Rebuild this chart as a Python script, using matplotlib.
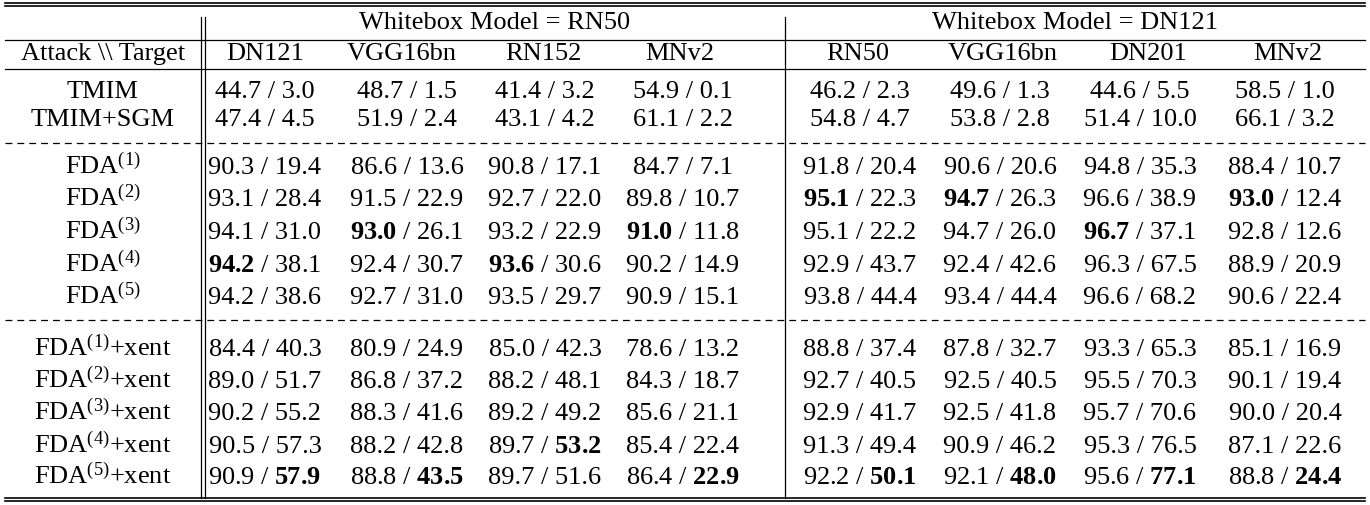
import matplotlib
matplotlib.use("Agg")
import matplotlib.pyplot as plt

plt.rcParams['font.family'] = ['Liberation Serif', 'DejaVu Serif']
plt.rcParams['mathtext.fontset'] = 'custom'
plt.rcParams['mathtext.rm'] = 'Liberation Serif'
plt.rcParams['mathtext.it'] = 'Liberation Serif:italic'
plt.rcParams['mathtext.bf'] = 'Liberation Serif:bold'

group_titles = ["Whitebox Model = RN50", "Whitebox Model = DN121"]
targets = ["DN121", "VGG16bn", "RN152", "MNv2", "RN50", "VGG16bn", "DN201", "MNv2"]
attacks = ["TMIM", "TMIM+SGM",
           "FDA$^{(1)}$", "FDA$^{(2)}$", "FDA$^{(3)}$", "FDA$^{(4)}$", "FDA$^{(5)}$",
           "FDA$^{(1)}$+xent", "FDA$^{(2)}$+xent", "FDA$^{(3)}$+xent", "FDA$^{(4)}$+xent", "FDA$^{(5)}$+xent"]
error_rate = [
    [44.7, 48.7, 41.4, 54.9, 46.2, 49.6, 44.6, 58.5],
    [47.4, 51.9, 43.1, 61.1, 54.8, 53.8, 51.4, 66.1],
    [90.3, 86.6, 90.8, 84.7, 91.8, 90.6, 94.8, 88.4],
    [93.1, 91.5, 92.7, 89.8, 95.1, 94.7, 96.6, 93.0],
    [94.1, 93.0, 93.2, 91.0, 95.1, 94.7, 96.7, 92.8],
    [94.2, 92.4, 93.6, 90.2, 92.9, 92.4, 96.3, 88.9],
    [94.2, 92.7, 93.5, 90.9, 93.8, 93.4, 96.6, 90.6],
    [84.4, 80.9, 85.0, 78.6, 88.8, 87.8, 93.3, 85.1],
    [89.0, 86.8, 88.2, 84.3, 92.7, 92.5, 95.5, 90.1],
    [90.2, 88.3, 89.2, 85.6, 92.9, 92.5, 95.7, 90.0],
    [90.5, 88.2, 89.7, 85.4, 91.3, 90.9, 95.3, 87.1],
    [90.9, 88.8, 89.7, 86.4, 92.2, 92.1, 95.6, 88.8],
]
success_rate = [
    [3.0, 1.5, 3.2, 0.1, 2.3, 1.3, 5.5, 1.0],
    [4.5, 2.4, 4.2, 2.2, 4.7, 2.8, 10.0, 3.2],
    [19.4, 13.6, 17.1, 7.1, 20.4, 20.6, 35.3, 10.7],
    [28.4, 22.9, 22.0, 10.7, 22.3, 26.3, 38.9, 12.4],
    [31.0, 26.1, 22.9, 11.8, 22.2, 26.0, 37.1, 12.6],
    [38.1, 30.7, 30.6, 14.9, 43.7, 42.6, 67.5, 20.9],
    [38.6, 31.0, 29.7, 15.1, 44.4, 44.4, 68.2, 22.4],
    [40.3, 24.9, 42.3, 13.2, 37.4, 32.7, 65.3, 16.9],
    [51.7, 37.2, 48.1, 18.7, 40.5, 40.5, 70.3, 19.4],
    [55.2, 41.6, 49.2, 21.1, 41.7, 41.8, 70.6, 20.4],
    [57.3, 42.8, 53.2, 22.4, 49.4, 46.2, 76.5, 22.6],
    [57.9, 43.5, 51.6, 22.9, 50.1, 48.0, 77.1, 24.4],
]
# (row, col, part) with part 0 = first number, 1 = second number
bold_cells = [(3, 4, 0), (3, 5, 0), (3, 7, 0), (4, 1, 0), (4, 3, 0), (4, 6, 0),
              (5, 0, 0), (5, 2, 0), (10, 2, 1),
              (11, 0, 1), (11, 1, 1), (11, 3, 1), (11, 4, 1), (11, 5, 1), (11, 6, 1), (11, 7, 1)]

W, H = 1370, 505
fig = plt.figure(figsize=(W / 100, H / 100), dpi=100)
ax = fig.add_axes([0, 0, 1, 1])
ax.set_xlim(0, W)
ax.set_ylim(H, 0)
ax.axis('off')

fs = 19
col_x = [265, 407, 545, 683, 860, 1000, 1140, 1285]
head_x = [265, 402, 543, 680, 858, 1003, 1148, 1288]
row_y = [98, 126, 174, 206, 239, 272, 304, 356, 388, 420, 453, 484]
attack_x = 103

# lines
ax.plot([5, 1365], [3, 3], color='k', lw=1.2)
ax.plot([5, 1365], [6, 6], color='k', lw=1.2)
ax.plot([5, 1365], [40, 40], color='k', lw=0.9)
ax.plot([5, 1365], [69, 69], color='k', lw=0.9)
ax.plot([5, 1365], [498, 498], color='k', lw=1.2)
ax.plot([5, 1365], [501, 501], color='k', lw=1.2)
for yd in [143, 320]:
    ax.plot([5, 1365], [yd, yd], color='k', lw=0.9, linestyle=(0, (5.5, 4)))
ax.plot([201, 201], [17, 498], color='k', lw=0.9)
ax.plot([205, 205], [17, 498], color='k', lw=0.9)
ax.plot([785, 785], [17, 498], color='k', lw=0.9)

ax.text(495, 29, group_titles[0], ha='center', va='baseline', fontsize=fs)
ax.text(1075, 29, group_titles[1], ha='center', va='baseline', fontsize=fs)
ax.text(attack_x, 60, "Attack \\\\ Target", ha='center', va='baseline', fontsize=fs)
for x, t in zip(head_x, targets):
    ax.text(x, 60, t, ha='center', va='baseline', fontsize=fs)

bold = set(bold_cells)
for r, (lab, y) in enumerate(zip(attacks, row_y)):
    ax.text(attack_x, y, lab, ha='center', va='baseline', fontsize=fs)
    for c, x in enumerate(col_x):
        a = f"{error_rate[r][c]:.1f}"
        b = f"{success_rate[r][c]:.1f}"
        if (r, c, 0) in bold:
            a = r"$\mathbf{" + a + "}$"
        if (r, c, 1) in bold:
            b = r"$\mathbf{" + b + "}$"
        ax.text(x, y, f"{a} / {b}", ha='center', va='baseline', fontsize=fs)

fig.savefig("out.png", dpi=100)
